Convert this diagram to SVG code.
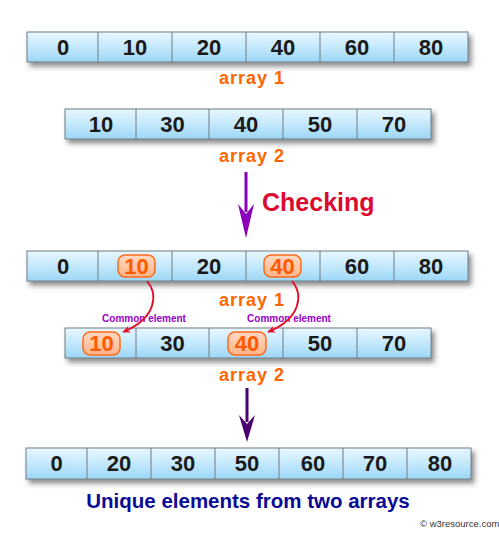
<svg xmlns="http://www.w3.org/2000/svg" width="499" height="533" viewBox="0 0 499 533">
<defs>
<linearGradient id="cellG" x1="0" y1="0" x2="0" y2="1">
<stop offset="0" stop-color="#E8F7FF"/>
<stop offset="0.5" stop-color="#C4E9FC"/>
<stop offset="1" stop-color="#9CD6F6"/>
</linearGradient>
<linearGradient id="hiG" x1="0" y1="0" x2="0" y2="1">
<stop offset="0" stop-color="#FFD9C2"/>
<stop offset="1" stop-color="#FFB48A"/>
</linearGradient>
<filter id="sh" x="-5%" y="-30%" width="112%" height="180%">
<feDropShadow dx="3" dy="4" stdDeviation="2.5" flood-color="#333" flood-opacity="0.55"/>
</filter>
<marker id="redHead" viewBox="0 0 10 10" refX="9" refY="5" markerWidth="8" markerHeight="8" orient="auto" markerUnits="userSpaceOnUse">
<path d="M0,0.5 L10,5 L0,9.5 L3,5 Z" fill="#E0102A"/>
</marker>
<style>
.bar{fill:url(#cellG);stroke:#6F7C86;stroke-width:1;filter:url(#sh)}
.div{stroke:#6F7C86;stroke-width:1}
.num{font-family:"Liberation Sans",Arial,sans-serif;font-weight:bold;font-size:22px;fill:#1A1A1A;text-anchor:middle}
.hnum{fill:#FF5A00}
.hbox{fill:url(#hiG);stroke:#FF6A1A;stroke-width:1.5}
.lbl{font-family:"Liberation Sans",Arial,sans-serif;font-weight:bold;font-size:18px;letter-spacing:1px;fill:#FF6600;text-anchor:middle}
.cm{font-family:"Liberation Sans",Arial,sans-serif;font-weight:bold;font-size:10px;fill:#9900CC;text-anchor:middle}
.red{fill:none;stroke:#E0102A;stroke-width:1.8}
</style>
</defs>

<g id="array1-top">
<rect class="bar" x="27" y="32" width="441" height="30"/>
<path class="div" d="M98,32V62M172,32V62M246,32V62M320,32V62M394,32V62"/>
<text class="num" x="63" y="55">0</text>
<text class="num" x="135" y="55">10</text>
<text class="num" x="209" y="55">20</text>
<text class="num" x="283" y="55">40</text>
<text class="num" x="357" y="55">60</text>
<text class="num" x="431" y="55">80</text>
</g>
<g id="label-array1-top"><text class="lbl" x="252" y="84">array 1</text></g>

<g id="array2-top">
<rect class="bar" x="65" y="109" width="366" height="30"/>
<path class="div" d="M136,109V139M209,109V139M283,109V139M357,109V139"/>
<text class="num" x="101" y="132">10</text>
<text class="num" x="172.5" y="132">30</text>
<text class="num" x="246" y="132">40</text>
<text class="num" x="320" y="132">50</text>
<text class="num" x="394" y="132">70</text>
</g>
<g id="label-array2-top"><text class="lbl" x="252" y="162">array 2</text></g>

<g id="checking"><text x="262" y="211" font-family="Liberation Sans, Arial, sans-serif" font-weight="bold" font-size="25" fill="#DC0A30">Checking</text></g>

<g id="array1-check">
<rect class="bar" x="27" y="251" width="441" height="30"/>
<path class="div" d="M98,251V281M172,251V281M246,251V281M320,251V281M394,251V281"/>
<text class="num" x="63" y="274">0</text>
<rect class="hbox" x="118" y="255" width="37" height="22" rx="7"/>
<text class="num hnum" x="136.5" y="274">10</text>
<text class="num" x="209" y="274">20</text>
<rect class="hbox" x="264" y="255" width="37" height="22" rx="7"/>
<text class="num hnum" x="282.5" y="274">40</text>
<text class="num" x="357" y="274">60</text>
<text class="num" x="431" y="274">80</text>
</g>
<g id="label-array1-check"><text class="lbl" x="252" y="306">array 1</text></g>

<g id="common1"><text class="cm" x="144" y="322">Common element</text></g>
<g id="common2"><text class="cm" x="289" y="322">Common element</text></g>

<g id="array2-check">
<rect class="bar" x="65" y="328" width="366" height="30"/>
<path class="div" d="M136,328V358M209,328V358M283,328V358M357,328V358"/>
<rect class="hbox" x="83" y="332" width="37" height="23" rx="7"/>
<text class="num hnum" x="101.5" y="351">10</text>
<text class="num" x="172.5" y="351">30</text>
<rect class="hbox" x="228" y="332" width="38" height="23" rx="7"/>
<text class="num hnum" x="247" y="351">40</text>
<text class="num" x="320" y="351">50</text>
<text class="num" x="394" y="351">70</text>
</g>
<g id="label-array2-check"><text class="lbl" x="252" y="381">array 2</text></g>

<g id="array-result">
<rect class="bar" x="26" y="448" width="445" height="31"/>
<path class="div" d="M87,448V479M151,448V479M215,448V479M279,448V479M343,448V479M407,448V479"/>
<text class="num" x="56.5" y="471">0</text>
<text class="num" x="119" y="471">20</text>
<text class="num" x="183" y="471">30</text>
<text class="num" x="247" y="471">50</text>
<text class="num" x="313" y="471">60</text>
<text class="num" x="375" y="471">70</text>
<text class="num" x="440" y="471">80</text>
</g>
<g id="label-result"><text x="248" y="508" font-family="Liberation Sans, Arial, sans-serif" font-weight="bold" font-size="20.5" fill="#0A0A96" text-anchor="middle">Unique elements from two arrays</text></g>

<g id="watermark"><text x="420" y="527" font-family="Liberation Sans, Arial, sans-serif" font-size="9.5" fill="#333">© w3resource.com</text></g>

<g id="connectors">
<path d="M246,172V212" stroke="#8A00B8" stroke-width="3" fill="none"/>
<path d="M238,204 L246,238 L254,204 L246,214 Z" fill="#8A00B8"/>
<path class="red" d="M147,281 C158,294 157,318 123,332" marker-end="url(#redHead)"/>
<path class="red" d="M292,281 C303,294 302,318 268,332" marker-end="url(#redHead)"/>
<path d="M247,388V422" stroke="#4A0070" stroke-width="3" fill="none"/>
<path d="M239,415 L247,442 L255,415 L247,424 Z" fill="#4A0070"/>
</g>
</svg>
